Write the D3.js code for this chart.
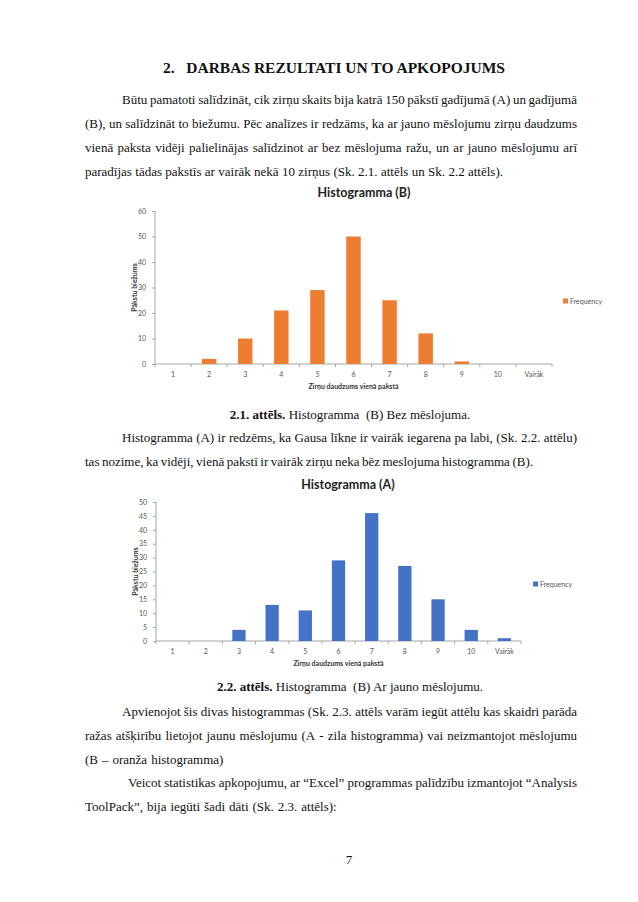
<!DOCTYPE html>
<html>
<head>
<meta charset="utf-8">
<script src="https://cdn.jsdelivr.net/npm/d3@7"></script>
<style>
  html, body { margin: 0; padding: 0; background: #fff; }
  svg { display: block; }
  .serif { font-family: "Liberation Serif", "Times New Roman", Times, "DejaVu Serif", serif; fill: #111; }
  .sans { font-family: Lato, "Liberation Sans", sans-serif; }
</style>
</head>
<body>
<div id="page"></div>
<script>
// Histogram categories and frequencies (read from the page)
const categories = ["1", "2", "3", "4", "5", "6", "7", "8", "9", "10", "Vairāk"];
const freqB = [0, 2, 10, 21, 29, 50, 25, 12, 1, 0, 0];
const freqA = [0, 0, 4, 13, 11, 29, 46, 27, 15, 4, 1];
const ticksB = [0, 10, 20, 30, 40, 50, 60];
const ticksA = [0, 5, 10, 15, 20, 25, 30, 35, 40, 45, 50];

// Body text lines: [text, line end (null = natural), first line of paragraph]
const para1 = [
    ["Būtu pamatoti salīdzināt, cik zirņu skaits bija katrā 150 pākstī gadījumā (A) un gadījumā", 577, true],
    ["(B), un salīdzināt to biežumu. Pēc analīzes ir redzāms, ka ar jauno mēslojumu zirņu daudzums", 577, false],
    ["vienā paksta vidēji palielinājas salīdzinot ar bez mēslojuma ražu, un ar jauno mēslojumu arī", 577, false],
    ["paradījas tādas pakstīs ar vairāk nekā 10 zirņus (Sk. 2.1. attēls un Sk. 2.2 attēls).", 503, false]
];
const para2 = [
    ["Histogramma (A) ir redzēms, ka Gausa līkne ir vairāk iegarena pa labi, (Sk. 2.2. attēlu)", 577, true],
    ["tas nozime, ka vidēji, vienā pakstī ir vairāk zirņu neka bēz meslojuma histogramma (B).", 533, false]
];
const para3 = [
    ["Apvienojot šis divas histogrammas (Sk. 2.3. attēls varām iegūt attēlu kas skaidri parāda", 577, true],
    ["ražas atšķirību lietojot jaunu mēslojumu (A - zila histogramma) vai neizmantojot mēslojumu", 577, false],
    ["(B – oranža histogramma)", null, false]
];
const para4 = [
    ["Veicot statistikas apkopojumu, ar “Excel” programmas palīdzību izmantojot “Analysis", 577, true],
    ["ToolPack”, bija iegūti šadi dāti (Sk. 2.3. attēls):", null, false]
];

const W = 638, H = 902;

const svg = d3.select("#page").append("svg")
    .attr("width", W)
    .attr("height", H);

svg.append("rect").attr("width", W).attr("height", H).attr("fill", "#fff");

// Text block margins
const left = 85, indent = 37;

function drawParagraph(lines, startY, ind) {
    lines.forEach(([txt, end, first], i) => {
        const x0 = first ? left + (ind || indent) : left;
        const y0 = startY + i * 24;
        const t = svg.append("text")
            .attr("class", "serif")
            .attr("y", y0)
            .style("font-size", "13px");
        const words = txt.split(" ");
        const spans = words.map(w => t.append("tspan").text(w));
        const widths = spans.map(s => s.node().getComputedTextLength());
        const total = d3.sum(widths);
        const gap = end ? (end - x0 - total) / (words.length - 1) : 4;
        let cx = x0;
        spans.forEach((s, k) => {
            s.attr("x", cx).attr("y", y0);
            cx += widths[k] + gap;
        });
    });
}

// Heading
svg.append("text")
    .attr("class", "serif")
    .attr("x", 334)
    .attr("y", 73)
    .attr("text-anchor", "middle")
    .style("font-size", "15.5px")
    .style("font-weight", "bold")
    .style("white-space", "pre")
    .text("2.   DARBAS REZULTATI UN TO APKOPOJUMS");

drawParagraph(para1, 104);

// Caption helper
function caption(bold, rest, y) {
    const t = svg.append("text")
        .attr("class", "serif")
        .attr("x", 350)
        .attr("y", y)
        .attr("text-anchor", "middle")
        .style("font-size", "13px")
        .style("white-space", "pre");
    t.append("tspan").style("font-weight", "bold").text(bold);
    t.append("tspan").text(rest);
}

// Histogram chart
function drawHistogram(cfg) {
    const x = d3.scaleBand()
        .domain(categories)
        .range([cfg.x0, cfg.x1])
        .paddingInner(0.6)
        .paddingOuter(0.3);

    // band used for labels and tick positions (no padding)
    const xb = d3.scaleBand().domain(categories).range([cfg.x0, cfg.x1]);

    const y = d3.scaleLinear()
        .domain([0, cfg.max])
        .range([cfg.y0, cfg.y1]);

    const g = svg.append("g").attr("class", "sans");

    // Title
    g.append("text")
        .attr("x", cfg.titleX)
        .attr("y", cfg.titleY)
        .attr("text-anchor", "middle")
        .style("font-size", "12.5px")
        .style("font-weight", "bold")
        .style("fill", "#222")
        .text(cfg.title);

    // Y axis
    const yAxis = g.append("g")
        .attr("transform", `translate(${cfg.x0},0)`)
        .call(d3.axisLeft(y).tickValues(cfg.ticks).tickSize(3).tickPadding(6));
    yAxis.selectAll("line").attr("stroke", "#a6a6a6");
    yAxis.select(".domain").attr("stroke", "#a6a6a6").attr("d", `M0,${cfg.y0}V${cfg.y1}`);
    yAxis.selectAll("text")
        .style("font-family", "Lato, sans-serif")
        .style("font-size", "7px")
        .style("fill", "#555");

    // X axis
    const xAxis = g.append("g")
        .attr("transform", `translate(0,${cfg.y0})`)
        .call(d3.axisBottom(xb).tickSize(0).tickPadding(8));
    xAxis.select(".domain").attr("stroke", "#a6a6a6").attr("d", `M${cfg.x0},0H${cfg.x1}`);
    xAxis.selectAll("text")
        .style("font-family", "Lato, sans-serif")
        .style("font-size", "7px")
        .style("fill", "#555");

    // Tick marks between categories
    g.selectAll(".xtick")
        .data(d3.range(categories.length + 1))
        .enter()
        .append("line")
        .attr("x1", i => cfg.x0 + i * xb.bandwidth())
        .attr("x2", i => cfg.x0 + i * xb.bandwidth())
        .attr("y1", cfg.y0)
        .attr("y2", cfg.y0 + 3)
        .attr("stroke", "#a6a6a6");

    // Bars
    g.selectAll(".bar")
        .data(cfg.values)
        .enter()
        .append("rect")
        .attr("x", (d, i) => x(categories[i]))
        .attr("width", x.bandwidth())
        .attr("y", d => y(d))
        .attr("height", d => cfg.y0 - y(d))
        .attr("fill", cfg.color);

    // Axis titles
    g.append("text")
        .attr("x", (cfg.x0 + cfg.x1) / 2)
        .attr("y", cfg.y0 + 25)
        .attr("text-anchor", "middle")
        .style("font-size", "7px")
        .style("font-weight", "bold")
        .style("fill", "#333")
        .text("Zirņu daudzums vienā pakstā");

    g.append("text")
        .attr("transform", `translate(${cfg.x0 - 18},${(cfg.y0 + cfg.y1) / 2}) rotate(-90)`)
        .attr("text-anchor", "middle")
        .style("font-size", "7px")
        .style("font-weight", "bold")
        .style("fill", "#333")
        .text("Pākstu biežums");

    // Legend
    g.append("rect")
        .attr("x", cfg.legX)
        .attr("y", cfg.legY - 2.5)
        .attr("width", 5)
        .attr("height", 5)
        .attr("fill", cfg.color);
    g.append("text")
        .attr("x", cfg.legX + 7)
        .attr("y", cfg.legY + 2.5)
        .style("font-size", "7px")
        .style("fill", "#555")
        .text("Frequency");
}

drawHistogram({
    title: "Histogramma (B)", titleX: 364, titleY: 197,
    values: freqB, ticks: ticksB, max: 60,
    x0: 155, x1: 552, y0: 364, y1: 211,
    color: "#ED7D31", legX: 563, legY: 301
});

caption("2.1. attēls.", " Histogramma  (B) Bez mēslojuma.", 419);
drawParagraph(para2, 442);

drawHistogram({
    title: "Histogramma (A)", titleX: 348, titleY: 489,
    values: freqA, ticks: ticksA, max: 50,
    x0: 156, x1: 521, y0: 641, y1: 502,
    color: "#4472C4", legX: 533, legY: 584
});

caption("2.2. attēls.", " Histogramma  (B) Ar jauno mēslojumu.", 691);
drawParagraph(para3, 716);
drawParagraph(para4, 787, 43);

// Page number
svg.append("text")
    .attr("class", "serif")
    .attr("x", 349)
    .attr("y", 864)
    .attr("text-anchor", "middle")
    .style("font-size", "13px")
    .text("7");
</script>
</body>
</html>
